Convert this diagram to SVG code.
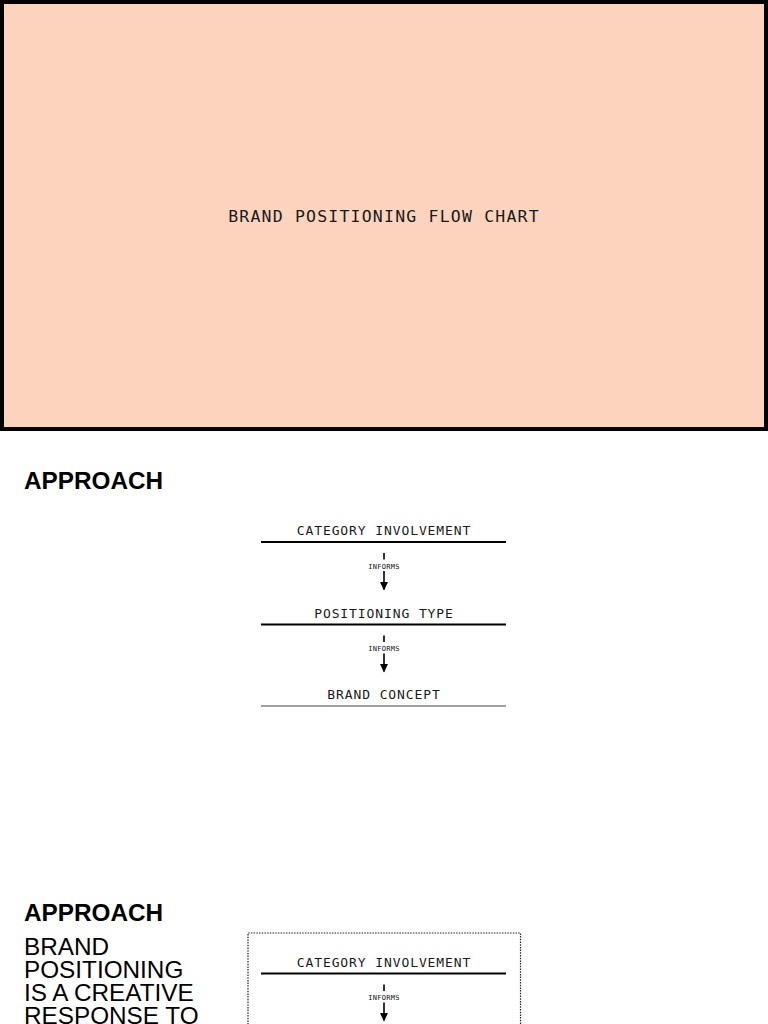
<svg xmlns="http://www.w3.org/2000/svg" width="768" height="1024" viewBox="0 0 768 1024">
<style>
.mono{font-family:"DejaVu Sans Mono","Liberation Mono",monospace;fill:#1a1a1a;text-anchor:middle}
.lbl{font-size:13px;letter-spacing:0.9px}
.tiny{font-size:7px;letter-spacing:0.3px;fill:#111}
.head{font-family:"Liberation Sans",Arial,sans-serif;font-weight:bold;font-size:24.3px;fill:#000}
.body{font-family:"Liberation Sans",Arial,sans-serif;font-size:24.3px;fill:#000}
.rule{stroke:#000;stroke-width:2}
.rule2{stroke:#444;stroke-width:1}
.tick{stroke:#000;stroke-width:1.6}
.shaft{stroke:#000;stroke-width:1.6}
</style>
<defs>
<marker id="ah" markerWidth="9" markerHeight="9" refX="8" refY="4.5" orient="auto" markerUnits="userSpaceOnUse" viewBox="0 0 9 9">
<path d="M0,0.3 L9,4.5 L0,8.7 Z" fill="#000"/>
</marker>
</defs>
<rect width="768" height="1024" fill="#fff"/>
<g id="title">
<rect x="2" y="2" width="764" height="427" fill="#FCD3BC" stroke="#000" stroke-width="4"/>
<text class="mono" x="384" y="222" style="font-size:16.5px;letter-spacing:1.2px">BRAND POSITIONING FLOW CHART</text>
</g>
<g id="approach1">
<text class="head" x="24" y="488.5">APPROACH</text>
</g>
<g id="n1">
<text class="mono lbl" x="384" y="535">CATEGORY INVOLVEMENT</text>
<line class="rule" x1="261" y1="542" x2="506" y2="542"/>
</g>
<g id="n2">
<text class="mono lbl" x="384" y="618">POSITIONING TYPE</text>
<line class="rule" x1="261" y1="624.5" x2="506" y2="624.5"/>
</g>
<g id="n3">
<text class="mono lbl" x="384" y="699">BRAND CONCEPT</text>
<line class="rule2" x1="261" y1="706" x2="506" y2="706"/>
</g>
<g id="connectors">
<line class="tick" x1="384" y1="553" x2="384" y2="559.5"/>
<text class="mono tiny" x="384" y="568.5">INFORMS</text>
<line class="shaft" x1="384" y1="571" x2="384" y2="589.5" marker-end="url(#ah)"/>
<line class="tick" x1="384" y1="635.5" x2="384" y2="642"/>
<text class="mono tiny" x="384" y="651">INFORMS</text>
<line class="shaft" x1="384" y1="653.5" x2="384" y2="671.5" marker-end="url(#ah)"/>
<line class="tick" x1="384" y1="984.5" x2="384" y2="991"/>
<text class="mono tiny" x="384" y="1000">INFORMS</text>
<line class="shaft" x1="384" y1="1002.5" x2="384" y2="1020.5" marker-end="url(#ah)"/>
</g>
<g id="approach2">
<text class="head" x="24" y="921">APPROACH</text>
<text class="body" x="24" y="954.5">BRAND</text>
<text class="body" x="24" y="977.5">POSITIONING</text>
<text class="body" x="24" y="1000.5">IS A CREATIVE</text>
<text class="body" x="24" y="1023.5">RESPONSE TO</text>
</g>
<g id="panel">
<path d="M248,1030 V933 H520.5 V1030" fill="none" stroke="#222" stroke-width="1.2" stroke-dasharray="1.5 1.2"/>
</g>
<g id="n4">
<text class="mono lbl" x="384" y="966.5">CATEGORY INVOLVEMENT</text>
<line class="rule" x1="261" y1="973.5" x2="506" y2="973.5"/>
</g>
</svg>
